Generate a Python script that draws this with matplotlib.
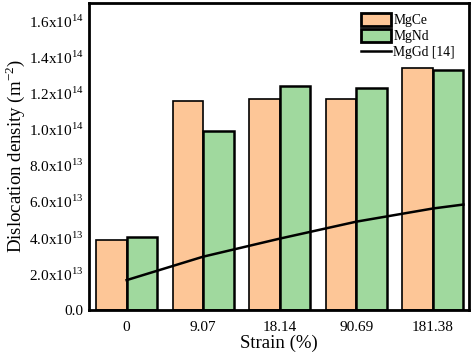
import matplotlib
matplotlib.use("Agg")
import matplotlib.pyplot as plt
import numpy as np
from matplotlib.ticker import FixedLocator, FixedFormatter

plt.rcParams['font.family'] = ['Liberation Serif', 'DejaVu Serif']
plt.rcParams['mathtext.fontset'] = 'custom'
plt.rcParams['mathtext.rm'] = 'Liberation Serif'

strain = ['0', '9.07', '18.14', '90.69', '181.38']
mgce = [3.83e13, 1.157e14, 1.167e14, 1.167e14, 1.337e14]
mgnd = [4.0e13, 9.87e13, 1.237e14, 1.226e14, 1.328e14]

# MgGd [14] curve (x in category units)
mggd_x = [0, 1, 2, 3, 4, 4.4]
mggd_y = [1.63e13, 2.93e13, 3.93e13, 4.87e13, 5.6e13, 5.82e13]

yticks = [0, 2e13, 4e13, 6e13, 8e13, 1e14, 1.2e14, 1.4e14, 1.6e14]
ylabels = ['0.0', r'2.0x10$^{13}$', r'4.0x10$^{13}$', r'6.0x10$^{13}$', r'8.0x10$^{13}$',
           r'1.0x10$^{14}$', r'1.2x10$^{14}$', r'1.4x10$^{14}$', r'1.6x10$^{14}$']

ORANGE = '#FDC697'
GREEN = '#A0D99E'

fig = plt.figure(figsize=(4.74, 3.57), dpi=100)
ax = fig.add_axes([0.188, 0.133, 0.801, 0.859])

x = np.arange(len(strain))
w = 0.4
b1 = ax.bar(x - w/2, mgce, w, color=ORANGE, edgecolor='black', linewidth=1.2, label='MgCe')
b2 = ax.bar(x + w/2, mgnd, w, color=GREEN, edgecolor='black', linewidth=1.8, label='MgNd')
ln, = ax.plot(mggd_x, mggd_y, color='black', linewidth=1.8, label='MgGd [14]')

ax.set_xlim(-0.49, 4.47)
ax.set_ylim(0, 1.70e14)
ax.set_xticks(x)
ax.set_xticklabels(strain)
ax.yaxis.set_major_locator(FixedLocator(yticks))
ax.yaxis.set_major_formatter(FixedFormatter(ylabels))
ax.tick_params(length=0, labelsize=11)
ax.tick_params(axis='x', pad=8)
ax.tick_params(axis='y', pad=4)
for s in ax.spines.values():
    s.set_linewidth(2)

ax.set_xlabel('Strain (%)', fontsize=13.5, labelpad=1)
ax.set_ylabel(r'Dislocation density (m$^{-2}$)', fontsize=13.6, labelpad=1)

leg = ax.legend([b1, b2, ln], ['MgCe', 'MgNd', 'MgGd [14]'], loc='upper right',
                frameon=False, fontsize=9.8, handlelength=2.25, handleheight=1.1,
                labelspacing=0.15, borderaxespad=0.2, handletextpad=0.15,
                bbox_to_anchor=(0.985, 0.995))
for h in leg.legend_handles[:2]:
    h.set_linewidth(2)

fig.savefig('out.png', dpi=100, facecolor='white')
